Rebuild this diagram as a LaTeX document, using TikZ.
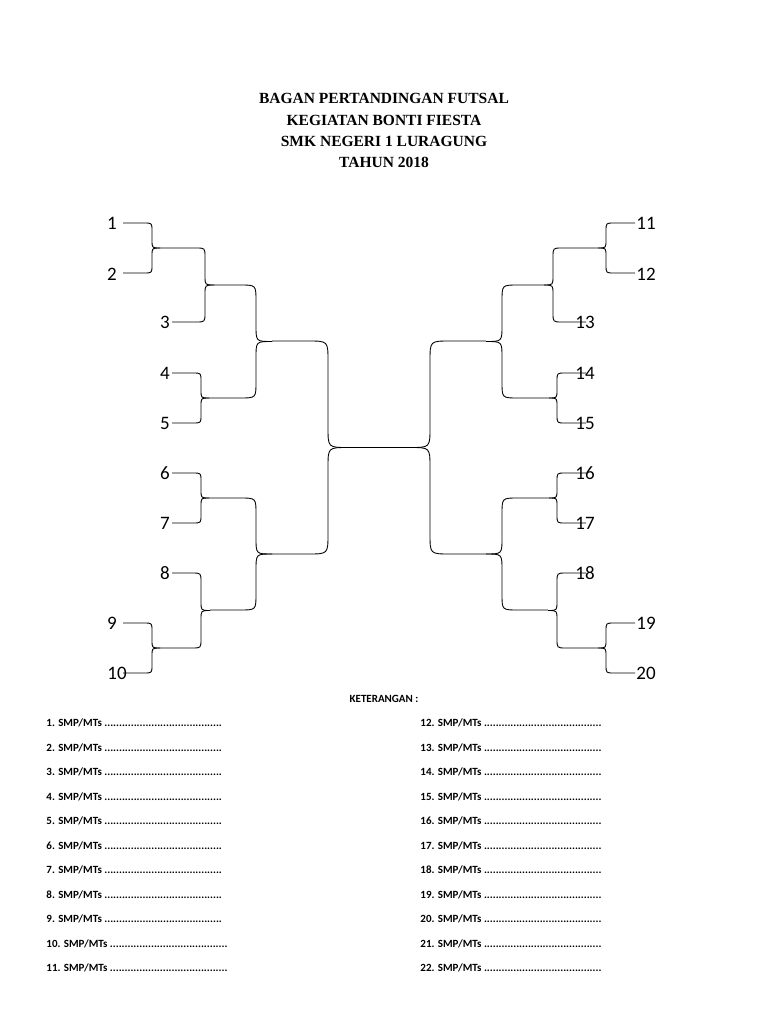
\documentclass[tikz,border=0pt]{standalone}
\usepackage{fontspec}
\setmainfont{Liberation Serif}
\newfontfamily\numfont{Carlito}
\begin{document}
\begin{tikzpicture}[x=1pt,y=-1pt,line width=0.9pt,
  numlbl/.style={font=\numfont\fontsize{19}{20}\selectfont,inner sep=0pt},
  leg/.style={font=\numfont\bfseries\fontsize{11}{12}\selectfont,anchor=west,inner sep=0pt},
  ttl/.style={font=\bfseries\fontsize{15.5}{16}\selectfont,inner sep=0pt}]
\useasboundingbox (0,0) rectangle (768,1024);
% #1 top start x, #2 top y, #3 bottom start x, #4 bottom y, #5 vertical x, #6 radius
\newcommand{\brk}[6]{%
  \pgfmathsetmacro{\ym}{(#2+#4)/2}%
  \draw (#1,#2) -- (#5-#6,#2) .. controls (#5,#2) .. (#5,#2+#6) -- (#5,\ym-#6) .. controls (#5,\ym) .. (#5+#6,\ym);
  \draw (#3,#4) -- (#5-#6,#4) .. controls (#5,#4) .. (#5,#4-#6) -- (#5,\ym+#6) .. controls (#5,\ym) .. (#5+#6,\ym);}
\node[ttl] (t1) at (384,98) {BAGAN PERTANDINGAN FUTSAL};
\node[ttl] (t2) at (384,120) {KEGIATAN BONTI FIESTA};
\node[ttl] (t3) at (384,141) {SMK NEGERI 1 LURAGUNG};
\node[ttl] (t4) at (384,162) {TAHUN 2018};
% left numbers
\node[numlbl] (n1) at (112,223) {1};
\node[numlbl] (n2) at (112,274) {2};
\node[numlbl] (n3) at (165,322) {3};
\node[numlbl] (n4) at (165,373) {4};
\node[numlbl] (n5) at (165,423) {5};
\node[numlbl] (n6) at (165,473) {6};
\node[numlbl] (n7) at (165,523) {7};
\node[numlbl] (n8) at (165,573) {8};
\node[numlbl] (n9) at (112,623) {9};
\node[numlbl] (n10) at (117,673) {10};
% right numbers
\node[numlbl] (n11) at (646,223) {11};
\node[numlbl] (n12) at (646,274) {12};
\node[numlbl] (n13) at (585,322) {13};
\node[numlbl] (n14) at (585,373) {14};
\node[numlbl] (n15) at (585,423) {15};
\node[numlbl] (n16) at (585,473) {16};
\node[numlbl] (n17) at (585,523) {17};
\node[numlbl] (n18) at (585,573) {18};
\node[numlbl] (n19) at (646,623) {19};
\node[numlbl] (n20) at (646,673) {20};
\foreach \s/\xs in {1/0,-1/758}{
\begin{scope}[xshift=\xs pt,xscale=\s]
\brk{123}{223}{123}{273}{152}{8}
\brk{160}{248}{172}{322}{205}{9}
\brk{172}{373}{172}{423}{201}{8}
\brk{214}{285}{209}{398}{256}{16}
\brk{172}{473}{172}{523}{201}{8}
\brk{123}{623}{123}{673}{152}{8}
\brk{172}{573}{160}{648}{201}{9}
\brk{209}{498}{210}{610}{256}{16}
\brk{272}{341}{272}{554}{328}{20}
\end{scope}}
\draw (348,447) -- (410,447);
\node[leg,anchor=center] (k) at (384,699) {KETERANGAN :};
\foreach \i in {1,...,11}{
  \node[leg] (l\i) at (46,{723+24.5*(\i-1)}) {\i. SMP/MTs ........................................};
}
\foreach \i in {12,...,22}{
  \node[leg] (r\i) at (420,{723+24.5*(\i-12)}) {\i. SMP/MTs ........................................};
}
\end{tikzpicture}
\end{document}
